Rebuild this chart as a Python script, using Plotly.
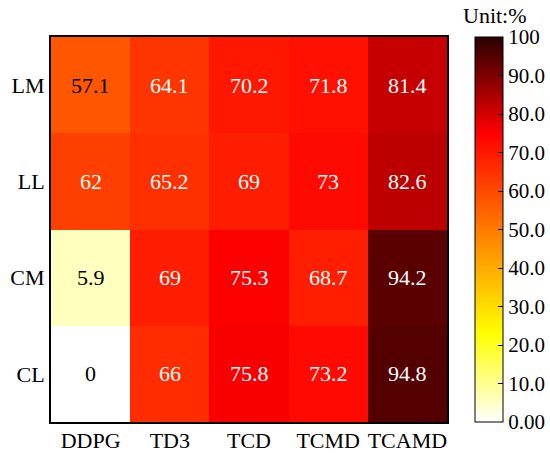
import plotly.graph_objects as go

methods = ["DDPG", "TD3", "TCD", "TCMD", "TCAMD"]
scenarios = ["LM", "LL", "CM", "CL"]
lm = [57.1, 64.1, 70.2, 71.8, 81.4]
ll = [62, 65.2, 69, 73, 82.6]
cm = [5.9, 69, 75.3, 68.7, 94.2]
cl = [0, 66, 75.8, 73.2, 94.8]
cbar_vals = [0, 10, 20, 30, 40, 50, 60, 70, 80, 90, 100]
cbar_text = ["0.00", "10.0", "20.0", "30.0", "40.0", "50.0", "60.0", "70.0", "80.0", "90.0", "100"]

z = [lm, ll, cm, cl]
FONT = "Liberation Serif"

colorscale = [
    [0.0, "#ffffff"],
    [0.23, "#ffff00"],
    [0.50, "#ff7a00"],
    [0.75, "#ff0000"],
    [0.83, "#b80000"],
    [1.0, "#2a0000"],
]

fig = go.Figure(go.Heatmap(
    z=z, x=methods, y=scenarios, zmin=0, zmax=100,
    colorscale=colorscale,
    hoverinfo="skip",
    colorbar=dict(
        x=1.0707, xanchor="left", xpad=0, y=0.5, yanchor="middle", ypad=0,
        len=1, lenmode="fraction", thickness=28, thicknessmode="pixels",
        outlinecolor="black", outlinewidth=1,
        tickvals=cbar_vals, ticktext=cbar_text,
        ticks="inside", ticklen=5, tickcolor="black", tickwidth=1,
        tickfont=dict(family=FONT, size=21, color="black"),
    ),
))

annotations = []
for yi, row in zip(scenarios, z):
    for xi, v in zip(methods, row):
        txt = f"{v:g}"
        annotations.append(dict(
            x=xi, y=yi, text=txt, showarrow=False,
            font=dict(family=FONT, size=22, color="black" if v < 60 else "white"),
        ))
annotations.append(dict(
    xref="paper", yref="paper", x=1.121, y=1.057, text="Unit:%",
    showarrow=False, xanchor="center", yanchor="middle",
    font=dict(family=FONT, size=22, color="black"),
))

fig.update_layout(
    width=550, height=460,
    margin=dict(l=51, r=103, t=37, b=38, autoexpand=False),
    paper_bgcolor="white", plot_bgcolor="white",
    annotations=annotations,
    font=dict(family=FONT, size=22, color="black"),
)
fig.update_xaxes(showline=True, linecolor="black", linewidth=2, mirror=True,
                 ticks="", ticklabelstandoff=-2,
                 tickfont=dict(family=FONT, size=22, color="black"))
fig.update_yaxes(showline=True, linecolor="black", linewidth=2, mirror=True,
                 autorange="reversed", ticks="",
                 tickfont=dict(family=FONT, size=22, color="black"))

fig.write_html("out.html", config={"displayModeBar": False},
               post_script="document.body.style.margin='0';document.body.style.overflow='hidden';")
